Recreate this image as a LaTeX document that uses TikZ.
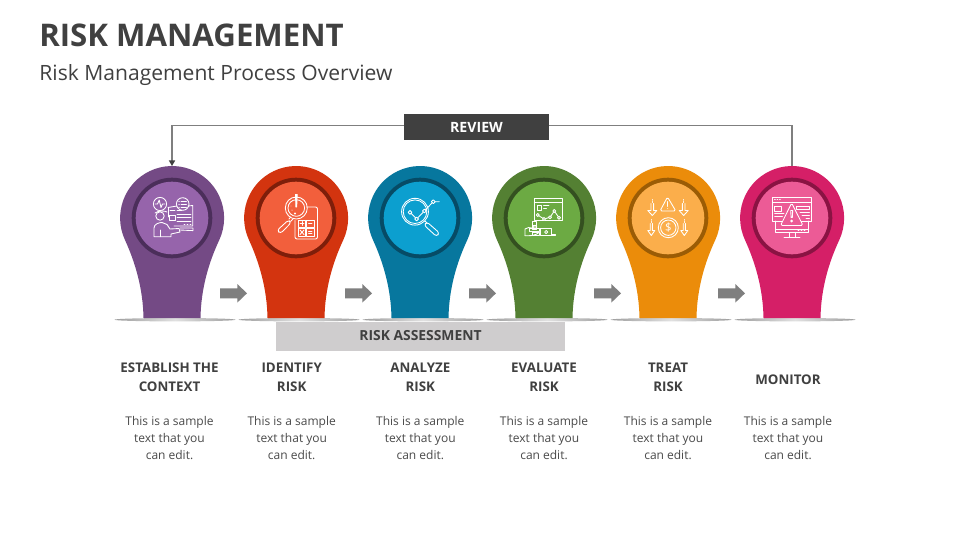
\documentclass[tikz,border=0pt]{standalone}
\usepackage{fontspec}
\setmainfont{Open Sans}
\usetikzlibrary{arrows.meta,calc}
\definecolor{inktext}{HTML}{404040}
\definecolor{bodytext}{HTML}{4A4A4A}
\definecolor{linegray}{HTML}{7F7F7F}
\definecolor{barLight}{HTML}{CFCDCE}
\definecolor{aPin}{HTML}{744A85}\definecolor{aRing}{HTML}{4B2E5A}\definecolor{aIn}{HTML}{9664AB}
\definecolor{bPin}{HTML}{D3340F}\definecolor{bRing}{HTML}{7E1E0A}\definecolor{bIn}{HTML}{F25F3C}
\definecolor{cPin}{HTML}{07779E}\definecolor{cRing}{HTML}{064B66}\definecolor{cIn}{HTML}{0C9FCF}
\definecolor{dPin}{HTML}{548033}\definecolor{dRing}{HTML}{345020}\definecolor{dIn}{HTML}{6CAA43}
\definecolor{ePin}{HTML}{EB8C0A}\definecolor{eRing}{HTML}{9B5C05}\definecolor{eIn}{HTML}{FBAE4B}
\definecolor{fPin}{HTML}{D51F67}\definecolor{fRing}{HTML}{8A1343}\definecolor{fIn}{HTML}{EC5B96}
\tikzset{
  ico/.style={draw=white,line width=.65pt,line cap=round,line join=round},
  head/.style={font=\fontsize{10}{14.2}\selectfont\bfseries,text=inktext,align=center,inner sep=0pt},
  body/.style={font=\fontsize{9}{12.75}\selectfont,text=bodytext,align=center,inner sep=0pt},
  flow/.style={fill=linegray},
  loopline/.style={draw=linegray,line width=.9pt},
}
\begin{document}
\begin{tikzpicture}[x=.75pt,y=-.75pt]
\useasboundingbox (0,0) rectangle (960,540);
\fill[white] (0,0) rectangle (960,540);
\node[anchor=west,inner sep=0pt,text=inktext,font=\fontsize{23.4}{28}\selectfont\bfseries] (title) at (39,35) {RISK MANAGEMENT};
\node[anchor=west,inner sep=0pt,text=inktext,font=\fontsize{15.8}{18}\selectfont] (subtitle) at (39.2,75) {Risk Management Process Overview};

% ground shadows and pins
\foreach \cx/\k/\n in {172/a/1,296/b/2,420/c/3,544/d/4,668/e/5,792/f/6}{
  \shade[left color=black!38,right color=black!38,middle color=black!12]
     (\cx+3,319.7) ellipse[x radius=60.5,y radius=1.7];
  \begin{scope}[shift={(\cx,218)}]
    \fill[\k Pin] (-28.5,100) .. controls (-29,70) and (-37,44) .. (-47,22)
       arc[start angle=155,end angle=385,radius=52]
       .. controls (37,44) and (29,70) .. (28.5,100) -- cycle;
    \fill[\k Ring] (0,0) circle[radius=40.3];
    \fill[\k In] (0,0) circle[radius=36.3];
  \end{scope}
  \coordinate (top\n) at (\cx,166);
}

% flow arrows
\foreach \ax in {220,345,469,594,718}{
  \fill[flow] (\ax,288.3) -- (\ax+17.3,288.3) -- (\ax+17.3,284) -- (\ax+27,293.3)
     -- (\ax+17.3,302.6) -- (\ax+17.3,298.3) -- (\ax,298.3) -- cycle;
}

% boxes
\node[fill=barLight,minimum width=289*.75pt,minimum height=29*.75pt,inner sep=0pt,text=inktext,font=\fontsize{10.4}{12}\selectfont\bfseries] (assess) at (420.5,336.2) {\raisebox{.75pt}{RISK ASSESSMENT}};
\node[fill=inktext,minimum width=145*.75pt,minimum height=26*.75pt,inner sep=0pt,text=white,font=\fontsize{10.6}{12}\selectfont\bfseries] (review) at (476.5,127) {\raisebox{-.6pt}{REVIEW}};

% loop connector
\coordinate (revL) at (404,125.7);
\coordinate (revR) at (549,125.7);
\draw[loopline,-{Triangle[length=4.2pt,width=4.6pt,color=inktext]}] (revL) -| (top1);
\draw[loopline] (revR) -| (top6);

% labels
\node[head] (h1) at (169.5,377.5) {ESTABLISH THE\\CONTEXT};
\node[head] (h2) at (291.7,377.5) {IDENTIFY\\RISK};
\node[head] (h3) at (420.3,377.5) {ANALYZE\\RISK};
\node[head] (h4) at (544,377.5) {EVALUATE\\RISK};
\node[head] (h5) at (668,377.5) {TREAT\\RISK};
\node[head] (h6) at (788,380) {MONITOR};
\foreach \tx/\m in {169.5/1,291.7/2,420.3/3,544/4,668/5,788/6}{
  \node[body] (b\m) at (\tx,438) {This is a sample\\text that you\\can edit.};
}

% icon 1: person at monitor
\begin{scope}[shift={(172,218)},ico]
  \draw (-12,-14) circle[radius=6.6];
  \draw (-17,-14) -- (-14.5,-14) -- (-12.8,-18) -- (-11,-10.5) -- (-9.5,-14) -- (-7,-14);
  \draw (10.7,-14) circle[radius=6.3];
  \foreach \yy in {-17,-14,-11}{\draw (9,\yy) -- (14.5,\yy); \draw (6.8,\yy) -- (7.3,\yy);}
  \draw (-4,-10.5) -- (5,-12); \draw (16,-12) -- (20.7,-12.5) -- (20.7,8) -- (2,8);
  \draw (-4,-10.5) -- (-4,-1);
  \draw (-2.7,-3) rectangle (3,2);
  \draw (-2,-8) -- (3,-8); \draw (5,-8) -- (10,-8);
  \draw (5,-4) -- (19,-4); \draw (5,-.5) -- (19,-.5); \draw (5,3) -- (19,3);
  \draw (12,6) -- (13,6); \draw (15,6) -- (16,6); \draw (18,6) -- (19,6);
  \draw (8,12) -- (21,12.6) -- (21,10) -- (8,10);
  \draw (-12,-2) circle[radius=4.2];
  \draw (-17,-5) .. controls (-13,-8) and (-7,-7) .. (-5,-6);
  \draw (-18,18.7) -- (-18,10) .. controls (-18,6) and (-13,4.5) .. (-10,4.5) -- (-5,6.5) -- (-2,11) -- (7,10.5) -- (8,14) -- (-1,16) -- (-1,18.7) -- cycle;
  \draw (-12,18.7) -- (-12,12);
\end{scope}

% icon 2: magnifier and calculator
\begin{scope}[shift={(296,218)},ico]
  \draw (.3,-10) circle[radius=11]; \draw (.3,-10) circle[radius=8.3];
  \draw[fill=white] (-.5,-23.5) -- (1.2,-23.5) -- (.7,-11) -- (-.1,-11) -- cycle;
  \fill[white] (-4,-8) circle[radius=.5] (-1,-4.5) circle[radius=1.1] (-5,-12) circle[radius=.4];
  \draw (-7,1) -- (-5.3,-1) (-5.3,3.3) -- (-3,1);
  \draw[rounded corners=2pt] (-7.5,2) -- (-4.8,4.6) -- (-15.5,15.5) -- (-19,12.5) -- cycle;
  \draw[rounded corners=1.5pt] (10.5,-11) -- (21.5,-11) -- (21.5,21) -- (-1,21) -- (-1,2.5);
  \draw (2.5,2) rectangle (9.5,9); \draw (10.5,2) rectangle (18,9);
  \draw (2.5,10.5) rectangle (9.5,18); \draw (10.5,10.5) rectangle (18,18);
  \draw (4,5.5) -- (8,5.5) (6,3.5) -- (6,7.5); \draw (12.5,5.5) -- (16,5.5);
  \draw (4,12) -- (8,16.5) (8,12) -- (4,16.5); \draw (12.5,13.2) -- (16,13.2) (12.5,15.5) -- (16,15.5);
\end{scope}

% icon 3: magnifier and chart
\begin{scope}[shift={(420,218)},ico]
  \draw (-5,-6.3) circle[radius=13.4]; \draw (-5,-6.3) circle[radius=11.8];
  \draw (-10,-5.7) -- (-3.3,1) -- (4.3,-7) -- (13.3,-16.3) -- (19.3,-16.3);
  \fill[cIn] (-10,-5.7) circle[radius=1.9] (-3.3,1) circle[radius=1.9] (4.3,-7) circle[radius=1.9] (13.3,-16.3) circle[radius=1.9];
  \draw (-10,-5.7) circle[radius=1.9] (-3.3,1) circle[radius=1.9] (4.3,-7) circle[radius=1.9] (13.3,-16.3) circle[radius=1.9];
  \draw (5.2,3.2) -- (7.2,5.2);
  \draw[rounded corners=2pt] (7,4) -- (19.5,15) -- (16.5,18.5) -- (4,7) -- cycle;
\end{scope}

% icon 4: chart window, hand and laptop
\begin{scope}[shift={(544,218)},ico]
  \draw (-9.7,-19.7) rectangle (18.3,2.7);
  \draw (-9.7,-15.7) -- (18.3,-15.7);
  \draw (-6.5,-13) rectangle (-2.3,-8);
  \draw (-.5,-12.5) -- (5,-12.5) (-.5,-9.5) -- (2.5,-9.5);
  \draw (-6.3,-3) -- (0,1) -- (6,-.7) -- (10.3,-7) -- (15,-.3);
  \fill[dIn] (-6.3,-3) circle[radius=1.5] (0,1) circle[radius=1.5] (6,-.7) circle[radius=1.5] (10.3,-7) circle[radius=1.5] (15,-.3) circle[radius=1.5];
  \draw (-6.3,-3) circle[radius=1.5] (0,1) circle[radius=1.5] (6,-.7) circle[radius=1.5] (10.3,-7) circle[radius=1.5] (15,-.3) circle[radius=1.5];
  \draw (-11.7,3) rectangle (-8,7) (-11.7,7) rectangle (-8,11);
  \draw (-3.3,10.3) rectangle (7.7,17.7); \draw (2.2,14) circle[radius=1.6];
  \draw (7.7,16) -- (11,16) -- (11,17.7) -- (-3.3,17.7);
  \draw (-19,17.7) -- (-19,11) .. controls (-17,9.5) and (-14,9) .. (-12,10);
  \draw (-19,17.7) -- (-15,17.7) .. controls (-12,17.7) and (-8,17) .. (-5,14.5);
  \draw (-15,13) rectangle (-5,10); \draw (-12,14) rectangle (-5,17);
  \draw (-9,9) circle[radius=1.8];
\end{scope}

% icon 5: warning, arrows and coin
\begin{scope}[shift={(668,218)},ico]
  \draw[rounded corners=1.2pt] (-.5,-21) -- (7.8,-7) -- (-8,-7) -- cycle;
  \draw (-.3,-16.5) -- (-.3,-11.5); \fill[white] (-.3,-9.3) circle[radius=.5];
  \draw (.3,9.7) circle[radius=10]; \draw (.3,9.7) circle[radius=7.7];
  \node[inner sep=0pt,text=white,font=\fontsize{8.5}{9}\selectfont] (dollar) at (.3,9.7) {\$};
  \foreach \px/\py/\hh/\ww in {-15.7/-14.5/11/4.5,15.7/-14.5/11/4.5,-16.7/5.5/11/3.5,16.3/5.5/11/3.5}{
    \begin{scope}[shift={(\px,\py)}]
      \draw (-\ww*.3,0) -- (-\ww*.3,\hh-4) -- (-\ww,\hh-4) -- (0,\hh+1) -- (\ww,\hh-4) -- (\ww*.3,\hh-4) -- (\ww*.3,0);
      \draw (0,-4) -- (0,-3.3) (0,-2) -- (0,-1);
    \end{scope}
  }
\end{scope}

% icon 6: monitor with warning
\begin{scope}[shift={(792,218)},ico]
  \draw (-19.5,-20.3) rectangle (19.7,3);
  \draw (-19.5,-16) -- (19.7,-16);
  \draw (-17.5,-18.2) -- (-16.7,-18.2) (-15,-18.2) -- (-14.2,-18.2) (-12.5,-18.2) -- (-11.7,-18.2);
  \draw (-17.3,-11.5) rectangle (-10.5,-7);
  \draw (-17.3,-4.5) -- (-8,-4.5) (-17.3,-1.5) -- (-9.5,-1.5);
  \draw (4,-12) rectangle (17.5,-9);
  \draw (8,-6) -- (17.5,-6) (10,-3) -- (17.5,-3) (14,0) -- (17.5,0);
  \draw (-16.3,3) -- (-16.3,14.5) -- (16.3,14.5) -- (16.3,3);
  \draw (-16.3,11) -- (16.3,11);
  \draw (6,12.8) -- (7,12.8) (9,12.8) -- (10,12.8) (12,12.8) -- (13,12.8);
  \draw (-8,19) -- (8,19) (-3,14.5) -- (-3,19) (3,14.5) -- (3,19);
  \draw[fill=fIn,rounded corners=1.2pt] (-.3,-15) -- (11,7.5) -- (-11.5,7.5) -- cycle;
  \draw (-1.3,-7.5) -- (.7,-7.5) -- (.3,-.5) -- (-.9,-.5) -- cycle;
  \fill[white] (-.3,3) circle[radius=1.5];
\end{scope}
\end{tikzpicture}
\end{document}
